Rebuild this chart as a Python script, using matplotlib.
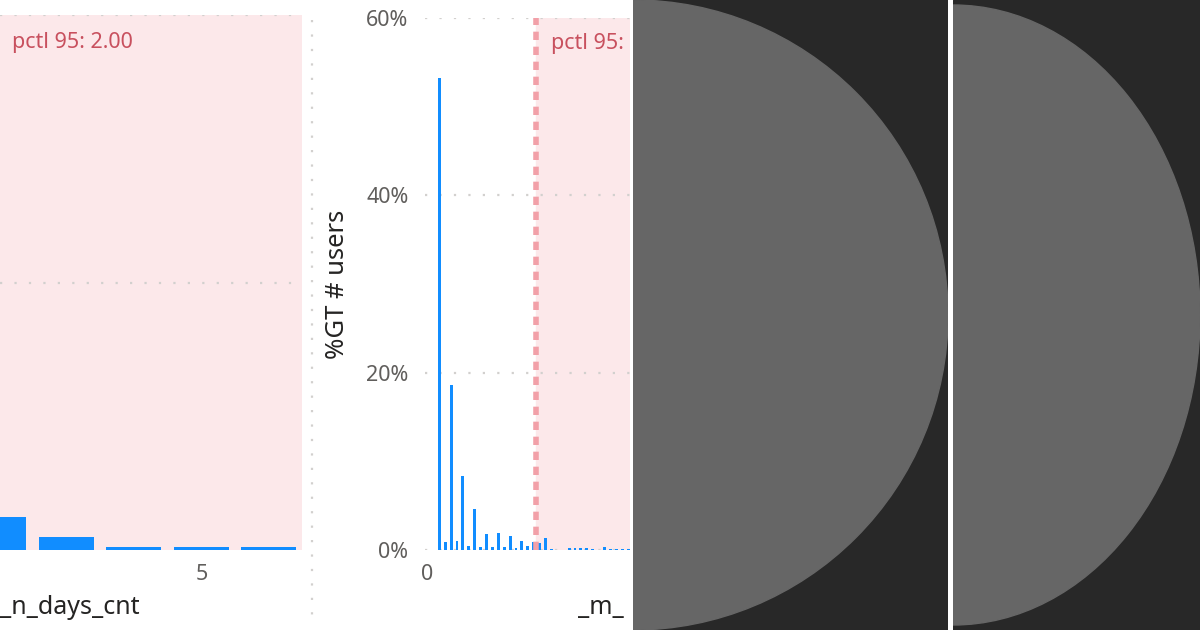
import matplotlib.pyplot as plt
from matplotlib.patches import Ellipse
from matplotlib.lines import Line2D
from matplotlib.ticker import FixedLocator

plt.rcParams['font.family'] = ['Noto Sans', 'DejaVu Sans']

# left panel: share of users by active days (only the tail is visible)
days_x = [2, 3, 4, 5, 6]
days_share = [0.062, 0.024, 0.0056, 0.0056, 0.0056]
days_pctl = 2.0

# middle panel: %GT # users
m_x = [2, 3, 4, 5, 6, 7, 8, 9, 10, 11, 12, 13, 14, 15, 16, 17, 18, 19, 20,
       21, 24, 25, 26, 27, 28, 30, 31, 32, 33, 34]
m_pct = [0.532, 0.009, 0.186, 0.0105, 0.084, 0.0045, 0.046, 0.0035, 0.018,
         0.0035, 0.019, 0.003, 0.016, 0.002, 0.010, 0.004, 0.009, 0.008, 0.014,
         0.0015, 0.002, 0.002, 0.002, 0.002, 0.0015, 0.0035, 0.0015, 0.0015,
         0.0015, 0.0015]
m_pctl = 18.4
m_yticks = [0, 0.2, 0.4, 0.6]
m_ytick_labels = ['0%', '20%', '40%', '60%']

BLUE = '#118DFF'
SHADE = '#FCE8EA'
PCTL_LINE = '#F2A0A8'
PCTL_TEXT = '#C8505E'
GRID = '#D2D0CE'
TICK = '#605E5C'
LABEL = '#252423'

W, H = 1200, 630
fig = plt.figure(figsize=(12, 6.3), dpi=100)
fig.patch.set_facecolor('white')


def px_axes(left, right, top, bottom):
    return fig.add_axes([left / W, 1 - bottom / H, (right - left) / W, (bottom - top) / H])


def style(ax):
    for s in ax.spines.values():
        s.set_visible(False)
    ax.tick_params(length=0, labelsize=15.5, colors=TICK)
    ax.set_axisbelow(True)
    ax.grid(axis='y', color=GRID, linestyle=(0, (1, 5.5)), linewidth=1.6)
    ax.grid(axis='x', visible=False)


# ---- left panel
ax1 = px_axes(0, 302, 15, 550)
style(ax1)
ax1.set_xlim(2.015, 2.015 + 302 / 67.5)
ax1.set_ylim(0, 1)
ax1.yaxis.set_major_locator(FixedLocator([0.5, 1.0]))
ax1.set_yticklabels([])
ax1.xaxis.set_major_locator(FixedLocator([0, 5, 10]))
ax1.tick_params(axis='x', pad=10)
ax1.axvspan(days_pctl, 10, color=SHADE, zorder=0)
ax1.axvline(days_pctl, color=PCTL_LINE, lw=4, ls=(0, (1.5, 1.2)), zorder=3)
ax1.bar(days_x, days_share, width=0.815, color=BLUE, zorder=2)
ax1.annotate(f'pctl 95: {days_pctl:.2f}', xy=(days_pctl, 1), xycoords=('data', 'axes fraction'),
             xytext=(9.5, -20), textcoords='offset points', va='center', ha='left',
             fontsize=15.5, color=PCTL_TEXT)
ax1.set_xlabel('_n_days_cnt', fontsize=18, color=LABEL, ha='left', va='center')
ax1.xaxis.set_label_coords(0, -0.108)

# ---- middle panel
ax2 = px_axes(425, 630, 18, 550)
style(ax2)
ax2.set_xlim(-2.5 / 5.9, 202.5 / 5.9)
ax2.set_ylim(0, 0.6)
ax2.yaxis.set_major_locator(FixedLocator(m_yticks))
ax2.set_yticklabels(m_ytick_labels)
ax2.tick_params(axis='y', pad=12)
ax2.xaxis.set_major_locator(FixedLocator([0, 50]))
ax2.tick_params(axis='x', pad=10)
ax2.axvspan(m_pctl, 100, color=SHADE, zorder=0)
ax2.axvline(m_pctl, color=PCTL_LINE, lw=4, ls=(0, (1.5, 1.2)), zorder=3)
ax2.bar(m_x, m_pct, width=0.5, color=BLUE, zorder=2)
ax2.annotate('pctl 95:', xy=(m_pctl, 1), xycoords=('data', 'axes fraction'),
             xytext=(10.5, -18), textcoords='offset points', va='center', ha='left',
             fontsize=15.5, color=PCTL_TEXT)
ax2.set_ylabel('%GT # users', fontsize=18.5, color=LABEL)
ax2.yaxis.set_label_coords(-0.365, 0.5)
ax2.set_xlabel('_m_', fontsize=18, color=LABEL, ha='left', va='center')
ax2.xaxis.set_label_coords((578 - 425) / 205, -0.109)

# dotted visual border between the two charts
fig.add_artist(Line2D([312 / W, 312 / W], [1 - 20 / H, 1 - 620 / H], transform=fig.transFigure,
                      color=GRID, ls=(0, (1, 5.5)), lw=1.6))

# ---- dark panels with half discs on the right
for left, right, cx, rx, ry in [(633, 948, 633, 315, 315), (953, 1200, 953, 247, 310)]:
    ov = px_axes(left, right, 0, H)
    ov.set_xlim(left, right)
    ov.set_ylim(H, 0)
    ov.set_facecolor('#282828')
    ov.axis('off')
    ov.add_patch(plt.Rectangle((left, 0), right - left, H, color='#282828'))
    ov.add_patch(Ellipse((cx, 315), 2 * rx, 2 * ry, color='#666666'))

fig.savefig('out.png', dpi=100, facecolor='white')
